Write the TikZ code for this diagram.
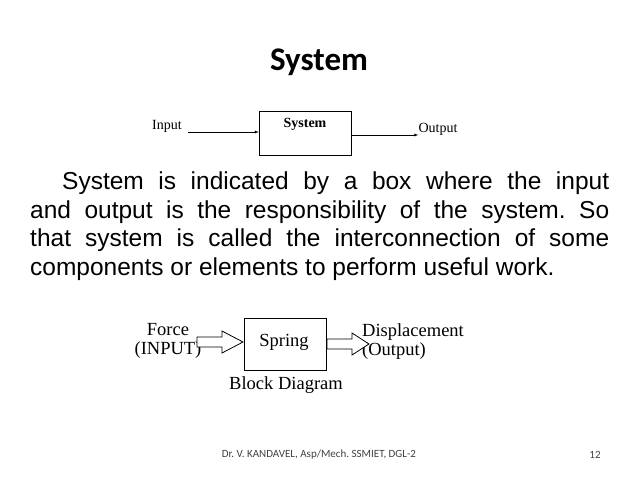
\documentclass[tikz,border=0pt]{standalone}
\usepackage{fontspec}
\setmainfont{Liberation Serif}
\newfontfamily\carl{Carlito}
\newfontfamily\arial{Liberation Sans}
\begin{document}
\frenchspacing
\begin{tikzpicture}[x=1pt,y=-1pt,
  tnode/.style={inner sep=0pt,font=\fontsize{14}{16}\selectfont},
  bnode/.style={inner sep=0pt,font=\fontsize{18.5}{19}\selectfont, align=center},
  hollow/.style={draw,fill=white,line width=0.8pt}]
\useasboundingbox (0,0) rectangle (638,478);
\node[inner sep=0pt,font=\carl\bfseries\fontsize{33}{38}\selectfont] (title) at (319,62) {System};
% top diagram
\node[draw,minimum width=92pt,minimum height=44pt,inner sep=0pt] (sys) at (305,133) {};
\node[tnode,font=\bfseries\fontsize{14}{16}\selectfont] (syst) at (305,124) {System};
\node[tnode] (in) at (167,126) {Input};
\node[tnode] (out) at (438,129) {Output};
\coordinate (ina) at (188,132);
\draw[-latex] (ina) -- (sys.west |- ina);
\coordinate (outa) at (351,135);
\draw[-latex] (outa) -- (out.west |- outa);
% paragraph
\node[inner sep=0pt,anchor=north west,text width=579pt,align=justify,
  font=\arial\fontsize{24.5}{28.5}\selectfont] (para) at (30,172)
 {\frenchspacing\hspace*{32pt}System is indicated by a box where the input\linebreak and output is the responsibility of the system. So\linebreak that system is called the interconnection of some\linebreak components or elements to perform useful work.};
% bottom diagram
\node[draw,minimum width=82pt,minimum height=52pt,inner sep=0pt,line width=0.8pt] (spring) at (285,344) {};
\node[bnode] (springt) at (284,342) {Spring};
\node[bnode] (force) at (168,341) {Force\\(INPUT)};
\node[bnode,align=left] (disp) at (413,342) {Displacement\\(Output)};
\node[bnode] (bd) at (286,385) {Block Diagram};
\draw[hollow] (197,337) -- (222,337) -- (222,331) -- (243,342) -- (222,353) -- (222,347) -- (197,347) -- cycle;
\draw[hollow] (327,339) -- (352,339) -- (352,333) -- (369,344) -- (352,355) -- (352,349) -- (327,349) -- cycle;
% footer
\node[inner sep=0pt,text=black!75,font=\carl\fontsize{11}{12}\selectfont] (foot) at (319,455) {Dr. V. KANDAVEL, Asp/Mech. SSMIET, DGL-2};
\node[inner sep=0pt,text=black!75,font=\carl\fontsize{11}{12}\selectfont] (pg) at (595,455) {12};
\end{tikzpicture}
\end{document}
